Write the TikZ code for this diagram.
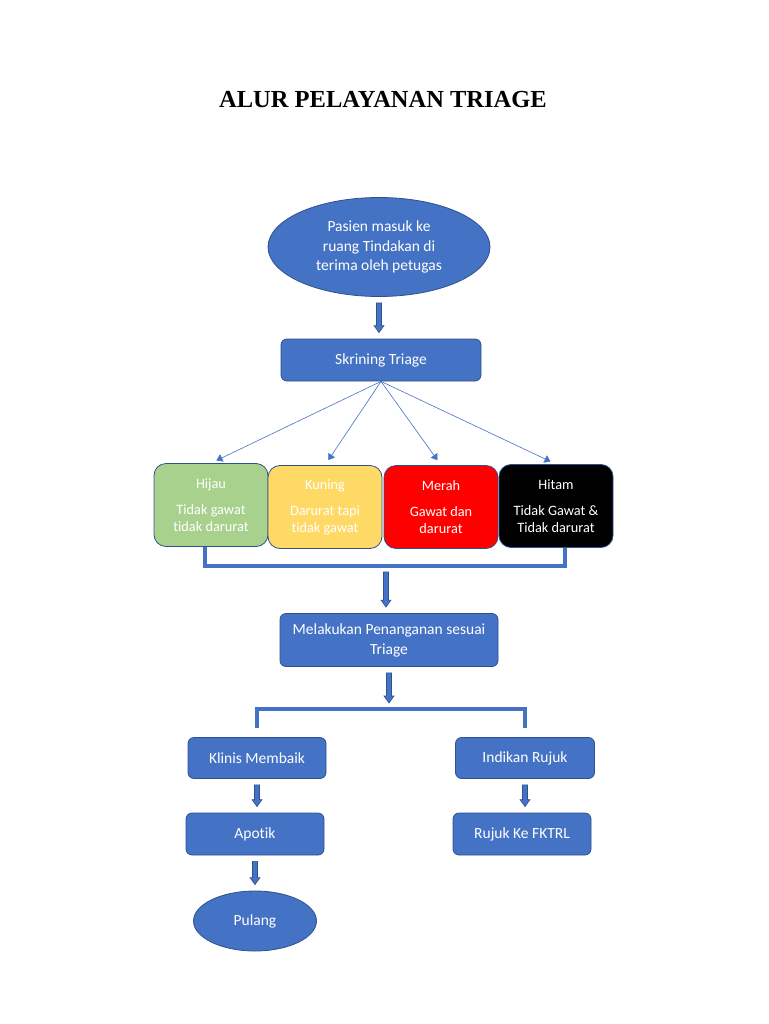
\documentclass[tikz,border=0pt]{standalone}
\usepackage{fontspec}
\setmainfont{Carlito}[Ligatures=NoCommon]
\newfontfamily\titlefont{Liberation Serif}
\usetikzlibrary{shapes.geometric,arrows.meta,calc}
\definecolor{boxblue}{HTML}{4472C4}
\definecolor{boxline}{HTML}{2F528F}
\definecolor{spokeblue}{HTML}{4472C4}
\definecolor{hijau}{HTML}{A9D18E}
\definecolor{kuning}{HTML}{FFD966}
\definecolor{merah}{HTML}{FF0000}
\definecolor{hitam}{HTML}{000000}
\tikzset{
    oval/.style ={
        shape=ellipse,
        draw=boxline,
        fill=boxblue,
        text=white,
        line width=0.8pt,
        inner sep=0pt,
        align=center,
        font=\fontsize{15.5}{19.5}\selectfont
    },
    box/.style ={
        shape=rectangle,
        rounded corners=6pt,
        draw=boxline,
        fill=boxblue,
        text=white,
        line width=0.8pt,
        align=center,
        font=\fontsize{15.5}{20}\selectfont
    },
    triage/.style ={
        shape=rectangle,
        rounded corners=12pt,
        draw=boxline,
        text=white,
        line width=0.8pt,
        minimum width=114pt,
        minimum height=83pt,
        align=center,
        font=\fontsize{14.3}{17}\selectfont
    },
    spoke/.style ={
        draw=spokeblue,
        line width=0.6pt,
        -{Triangle[width=8pt,length=6pt]},
        shorten >=6pt
    },
    joiner/.style ={
        draw=boxline,
        double=boxblue,
        double distance=3.5pt,
        line width=0.7pt
    },
    blockarrow/.style ={
        draw=boxline,
        fill=boxblue,
        line width=0.6pt
    }
}
% fat down arrow between two nodes
\newcommand{\blockdown}[2]{%
    \filldraw[blockarrow] let \p1=(#1), \p2=(#2) in
        (\x1-2.5pt,\y1-6pt) -- (\x1+2.5pt,\y1-6pt) -- (\x1+2.5pt,\y2+13pt)
        -- (\x1+5pt,\y2+13pt) -- (\x1,\y2+6pt) -- (\x1-5pt,\y2+13pt)
        -- (\x1-2.5pt,\y2+13pt) -- cycle;}

\begin{document}
\begin{tikzpicture}[x=1pt,y=-1pt]
    \fill[white] (0,0) rectangle (768,1024);
    \useasboundingbox (0,0) rectangle (768,1024);
    \node (title) at(383,100) {\titlefont\bfseries\fontsize{24.5}{28}\selectfont ALUR PELAYANAN TRIAGE};

    \node[oval, minimum width=222pt, minimum height=99pt] (pasien) at(379,247)
        {Pasien masuk ke\\ruang Tindakan di\\terima oleh petugas};
    \node[box, minimum width=200pt, minimum height=42pt] (skrining) at(381,360) {Skrining Triage};

    \node[triage, fill=hijau] (hijau) at(211,505) {Hijau\\[9pt]Tidak gawat\\tidak darurat};
    \node[triage, fill=kuning] (kuning) at(325,507) {Kuning\\[9pt]Darurat tapi\\tidak gawat};
    \node[triage, fill=merah] (merah) at(441,507) {Merah\\[9pt]Gawat dan\\darurat};
    \node[triage, fill=hitam] (hitam) at(556,506) {Hitam\\[9pt]Tidak Gawat \&\\Tidak darurat};

    \node[box, minimum width=218pt, minimum height=53pt] (penanganan) at(389,640)
        {Melakukan Penanganan sesuai\\Triage};

    \node[box, minimum width=138pt, minimum height=41pt] (klinis) at(257,758) {Klinis Membaik};
    \node[box, minimum width=139pt, minimum height=41pt] (indikan) at(525,758) {Indikan Rujuk};
    \node[box, minimum width=138pt, minimum height=42pt] (apotik) at(255,834) {Apotik};
    \node[box, minimum width=138pt, minimum height=42pt] (rujuk) at(522,834) {Rujuk Ke FKTRL};
    \node[oval, minimum width=123pt, minimum height=60pt] (pulang) at(255,921) {Pulang};

    \coordinate (join1) at(386,566);
    \coordinate (join2) at(390,709);

    \draw[spoke] (skrining.south) -- (hijau.north);
    \draw[spoke] (skrining.south) -- (kuning.north);
    \draw[spoke] (skrining.south) -- (merah.north);
    \draw[spoke] (skrining.south) -- (hitam.north);

    \draw[joiner] ([xshift=-6pt]hijau.south) |- (join1) -| ([xshift=9pt]hitam.south);
    \draw[joiner] ([yshift=9pt]klinis.north) |- (join2) -| ([yshift=9pt]indikan.north);

    \blockdown{pasien.south}{skrining.north}
    \blockdown{join1}{penanganan.north}
    \blockdown{penanganan.south}{join2}
    \blockdown{klinis.south}{apotik.north}
    \blockdown{indikan.south}{rujuk.north}
    \blockdown{apotik.south}{pulang.north}
\end{tikzpicture}
\end{document}
